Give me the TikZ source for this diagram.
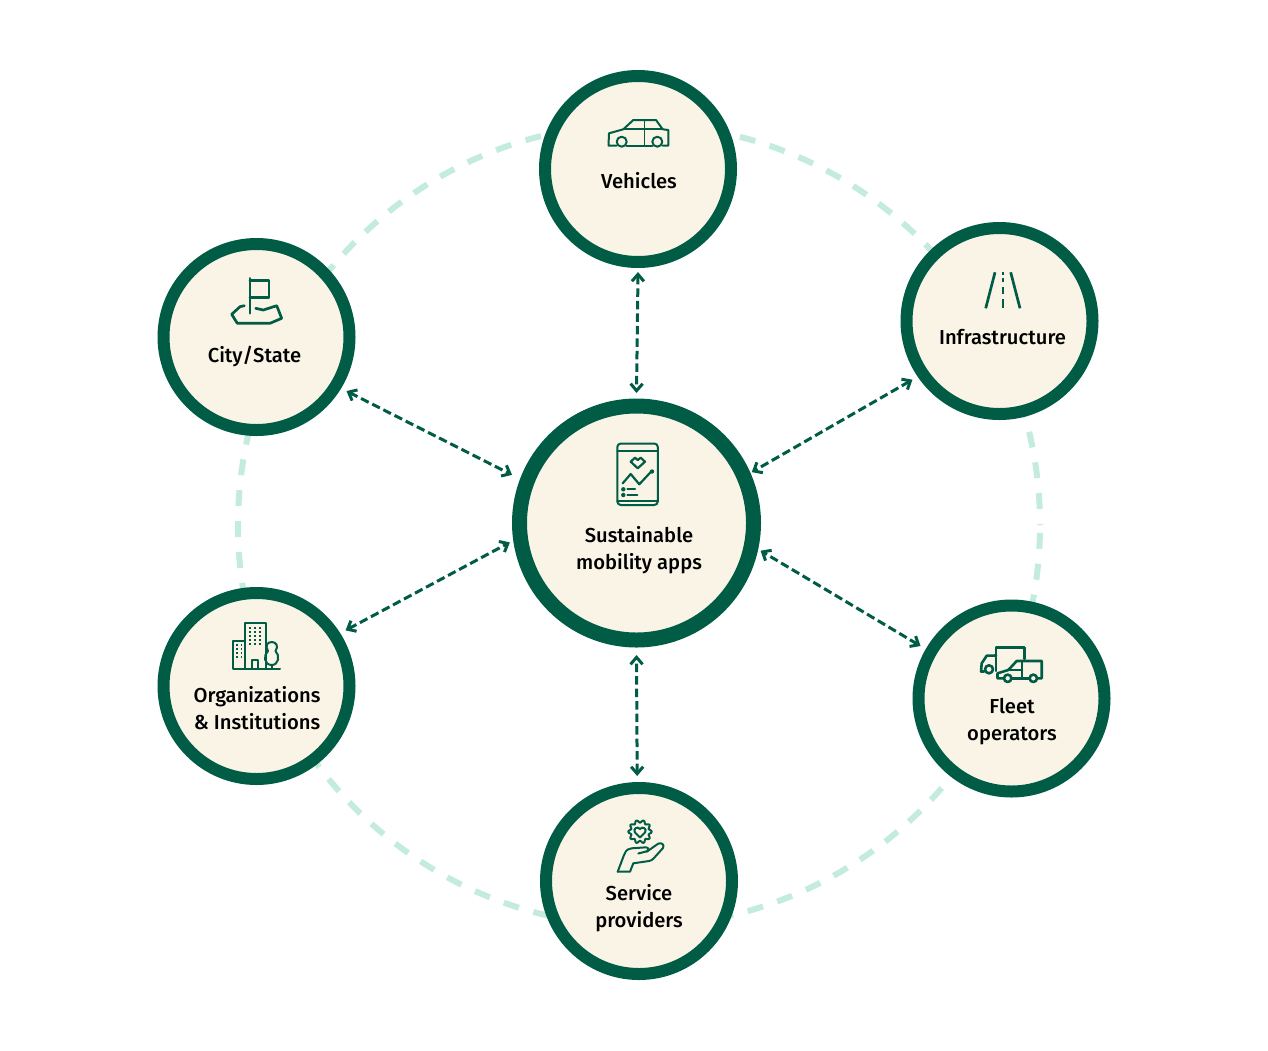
\documentclass[tikz,border=0pt]{standalone}
\usepackage{fontspec}
\setmainfont{Fira Sans Medium}[BoldFont=Fira Sans SemiBold]
\usetikzlibrary{arrows.meta}
\definecolor{ring}{HTML}{015C46}
\definecolor{cream}{HTML}{FAF4E7}
\definecolor{mint}{HTML}{C4ECDD}
\tikzset{
  smallhub/.style={circle,draw=ring,fill=cream,line width=12pt,minimum size=186pt,inner sep=0pt,outer sep=12pt},
  mainhub/.style={circle,draw=ring,fill=cream,line width=15pt,minimum size=234pt,inner sep=0pt,outer sep=13pt},
  orbit/.style={circle,draw=mint,line width=6pt,dash pattern=on 16pt off 15pt,dash phase=15pt,minimum size=802pt,inner sep=0pt},
  link/.style={draw=ring,line width=3pt,dash pattern=on 8.5pt off 4pt,{Straight Barb[length=7pt,width=12pt,line width=3pt]}-{Straight Barb[length=7pt,width=12pt,line width=3pt]}},
  lbl/.style={align=center,text=black,font=\fontsize{20.2pt}{27pt}\selectfont,inner sep=0pt},
  icon/.style={draw=ring,line width=2pt,line join=round,line cap=round},
  iconb/.style={draw=ring,line width=2.7pt,line join=round,line cap=round},
  dot/.style={fill=ring,draw=none}
}
\begin{document}
\begin{tikzpicture}[x=1pt,y=-1pt]
\useasboundingbox (0,0) rectangle (1268,1050);
\node[orbit] (o) at (639,525) {};
\node[smallhub] (veh) at (638,169) {};
\node[smallhub] (inf) at (999.5,321) {};
\node[smallhub] (cit) at (256.5,337) {};
\node[smallhub] (org) at (256.5,686) {};
\node[smallhub] (flt) at (1011.5,698.5) {};
\node[smallhub] (srv) at (639,881) {};
\node[mainhub] (c) at (636.5,523) {};
% connectors
\draw[link,shorten <=-2pt] (veh.-90.5) -- (c.90);
\draw[link,shorten >=3.5pt] (cit.-31) -- (c.159.4);
\draw[link,shorten >=-4pt] (inf.214.4) -- (c.24.7);
\draw[link,shorten >=-2pt] (org.32.8) -- (c.189);
\draw[link,shorten >=-3pt] (flt.150.5) -- (c.-13.6);
\draw[link,shorten >=2pt] (srv.91.8) -- (c.-90.2);
% labels
\node[lbl] (lv) at (639,181) {Vehicles};
\node[lbl] (li) at (1002.5,337) {Infrastructure};
\node[lbl] (lc) at (254.5,356.5) {City/State};
\node[lbl] (lm) at (639,550) {Sustainable\\mobility apps};
\node[lbl] (lo) at (257,708.5) {Organizations\\\& Institutions};
\node[lbl] (lf) at (1012,722) {Fleet\\operators};
\node[lbl] (ls) at (639,908) {Service\\providers};
% car
\draw[icon] (616.7,145.5) -- (608.5,145.5) -- (609,133.3) -- (623.3,129.3) -- (633.3,120) -- (656,120) -- (662.7,129.3) -- (668.3,130) -- (668.3,145.5) -- (662.5,145.5);
\draw[icon] (626.7,145.5) -- (652.3,145.5);
\draw[icon] (621.7,141.7) circle (5pt) (657.3,141.7) circle (5pt);
\draw[icon] (623.3,129.3) -- (662.7,129.3);
\draw[icon,line width=1pt] (644,120) -- (644,145);
% city
\draw[iconb] (250,278.3) -- (250,313.3);
\draw[iconb] (250,280.7) -- (269,280.7) -- (269,297.3) -- (250,297.3);
\draw[iconb] (244.3,305.7) -- (240,306.7) -- (231.7,314.3) -- (237.3,323.3) -- (270,323.3) -- (281.7,318.3) -- (276.7,305.7) -- (263.3,310) -- (255.7,308.3);
% road
\draw[iconb,line cap=butt] (995,272.3) -- (985.7,308.3) (1010.7,272.3) -- (1020,308.3);
\draw[iconb,line cap=butt] (1003,272.3) -- (1003,275) (1003,278.3) -- (1003,281.7) (1003,287.3) -- (1003,294) (1003,299.3) -- (1003,308.3);
% phone
\draw[icon,line width=2pt,rounded corners=3.5pt] (617.3,443.5) rectangle (657.8,505);
\draw[icon] (617.3,450.7) -- (657.8,450.7) (617.3,500.7) -- (657.8,500.7);
\draw[icon,line width=2.2pt] (630.7,461.7) -- (635,457.7) -- (637.7,460) -- (640.7,457.7) -- (645,461.7) -- (637.7,468.3) -- cycle;
\draw[icon,line width=2.2pt] (622.7,483.3) -- (630.7,474) -- (639.3,484.3) -- (651.7,471);
\fill[dot] (652,471.5) circle (2.2pt) (623.3,489.3) circle (2.2pt) (623.3,495) circle (2.2pt);
\draw[icon] (627.3,489.3) -- (635,489.3) (627.3,495) -- (637.3,495);
% organisations
\draw[icon] (233.3,668.5) -- (280,668.5);
\draw[icon] (233.3,668.5) -- (233.3,641) -- (245,641);
\draw[icon] (245,668.5) -- (245,622.7) -- (265.7,622.7) -- (265.7,668.5);
\draw[icon] (251.7,668.5) -- (251.7,660) -- (258.3,660) -- (258.3,668.5);
\foreach \wx in {250,255,260} \foreach \wy in {628.3,632.3,636.3,640.3,644.3}
  \fill[dot] (\wx-.9,\wy-.9) rectangle (\wx+.9,\wy+.9);
\foreach \wx in {237,241.3} \foreach \wy in {645,649,653,657}
  \fill[dot] (\wx-.8,\wy-.8) rectangle (\wx+.8,\wy+.8);
\draw[icon] (268,651) .. controls (263,655) and (264,665) .. (271.7,665) .. controls (279,665) and (280,655) .. (275.5,651) .. controls (279,646) and (276,642) .. (271.7,642) .. controls (267,642) and (265,646) .. (268,651) -- cycle;
\draw[icon] (271.7,665) -- (271.7,668.5);
% fleet
\draw[iconb,line width=2.6pt] (996,671) -- (996,647.3) -- (1024.3,647.3) -- (1024.3,659);
\draw[iconb,line width=2.6pt] (996,655.5) -- (986.7,655.7) -- (981.7,663.3) -- (981,671.5) -- (984,671.5);
\draw[iconb,line width=2.6pt] (989,669.3) circle (4pt);
\draw[iconb,line width=2.6pt] (1003.5,678.3) -- (997.5,678.3) -- (997.5,673.3) -- (1008.3,670) -- (1016.7,661) -- (1041.7,661) -- (1041.7,678.3) -- (1038,678.3);
\draw[iconb,line width=2.6pt] (1012,678.3) -- (1029,678.3);
\draw[iconb,line width=2.6pt] (1008.3,670) -- (1022,670) (1022,661) -- (1022,678.3);
\draw[iconb,line width=2.6pt,fill=cream] (1007.7,678.3) circle (3.7pt) (1033.3,678.3) circle (3.7pt);
% service
\draw[icon] plot[smooth cycle,samples=60,domain=0:354] ({640+(10.4+1.4*cos(10*\x))*cos(\x)},{831.7+(10.4+1.4*cos(10*\x))*sin(\x)});
\draw[icon] (640,837.5) -- (635,832.5) .. controls (632.5,829) and (637.5,825.5) .. (640,829) .. controls (642.5,825.5) and (647.5,829) .. (645,832.5) -- cycle;
\draw[icon] (617.7,871.7) -- (624,855) .. controls (626,849.5) and (629,848.3) .. (631.7,848.3) -- (646,847.3) .. controls (649,847.5) and (649,851) .. (646,851.5) -- (638.3,853.5);
\draw[icon] (646.7,851.7) -- (658,843.8) .. controls (661,842) and (665,844.5) .. (663,848) -- (654,858) .. controls (652.5,860) and (651,860.5) .. (649,861) -- (633.3,863.3) -- (630,871.7) -- (617.7,871.7);
\end{tikzpicture}
\end{document}
